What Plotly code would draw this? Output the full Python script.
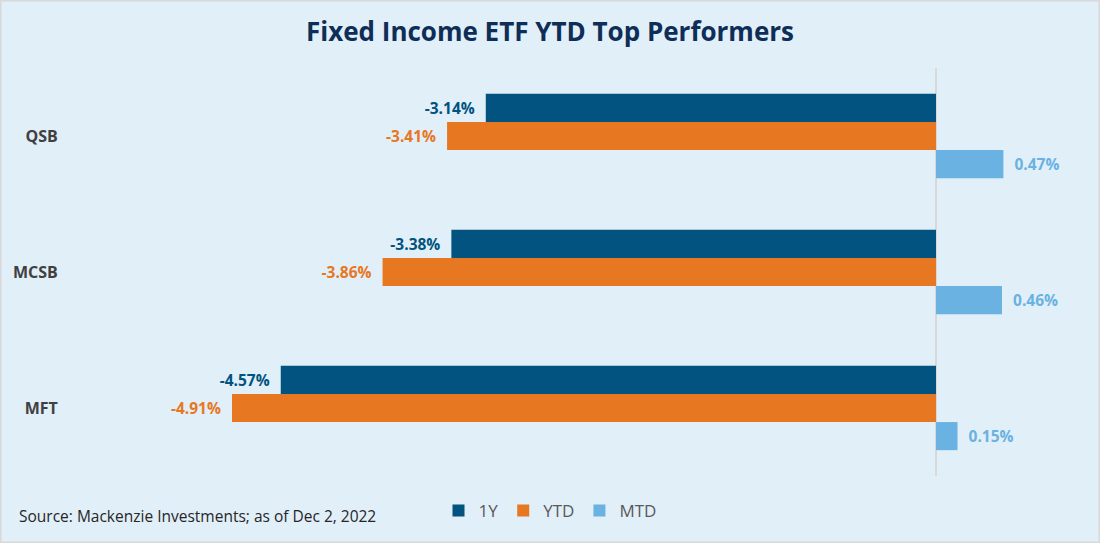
import plotly.graph_objects as go

categories = ["QSB", "MCSB", "MFT"]
one_year = [-3.14, -3.38, -4.57]
ytd = [-3.41, -3.86, -4.91]
mtd = [0.47, 0.46, 0.15]
series_names = ["1Y", "YTD", "MTD"]
colors = ["#02537F", "#E87722", "#6AB2E2"]

W, H = 1100, 543
L, R, T, B = 80, 40, 68, 67
zero_px = 936
px_per_unit = (936 - 232) / 4.91
x_min = -(zero_px - L) / px_per_unit
x_max = (W - R - zero_px) / px_per_unit

fig = go.Figure()
for name, vals, col in zip(series_names, [one_year, ytd, mtd], colors):
    fig.add_trace(go.Bar(
        name=name, y=categories, x=vals, orientation="h",
        marker=dict(color=col, line=dict(width=0)),
        text=[("%.2f%%\u00a0\u00a0" % v) if v < 0 else ("\u00a0\u00a0%.2f%%" % v) for v in vals],
        textposition="outside", cliponaxis=False,
        textfont=dict(family="Open Sans", size=15.5, color=col, weight="bold"),
        hoverinfo="skip",
    ))

fig.update_layout(
    width=W, height=H,
    margin=dict(l=L, r=R, t=T, b=B),
    paper_bgcolor="#E1EFF9", plot_bgcolor="#E1EFF9",
    barmode="group", bargap=0.38, bargroupgap=0,
    title=dict(text="<b>Fixed Income ETF YTD Top Performers</b>",
               x=0.5, xanchor="center", y=1 - 32 / H, yanchor="middle",
               font=dict(family="Open Sans", size=26, color="#0E2D57")),
    xaxis=dict(range=[x_min, x_max], showgrid=False, showticklabels=False,
               zeroline=True, zerolinecolor="#D9D9D9", zerolinewidth=2,
               ticks="", showline=False, fixedrange=True),
    yaxis=dict(categoryorder="array", categoryarray=categories, autorange="reversed",
               showgrid=False, zeroline=False, showline=False,
               ticks="outside", ticklen=18, tickcolor="rgba(0,0,0,0)",
               tickfont=dict(family="Open Sans", size=16, color="#404040", weight="bold")),
    legend=dict(orientation="h", xref="container", yref="container",
                x=0.5, xanchor="center", y=1 - 511 / H, yanchor="middle",
                font=dict(family="Open Sans", size=17, color="#595959"),
                bgcolor="rgba(0,0,0,0)", itemwidth=30, traceorder="normal"),
    showlegend=True,
    annotations=[dict(text="Source: Mackenzie Investments; as of Dec 2, 2022",
                      xref="paper", yref="paper",
                      x=(17 - L) / (W - L - R), xanchor="left",
                      y=(H - B - 516) / (H - T - B), yanchor="middle",
                      showarrow=False,
                      font=dict(family="Open Sans", size=15.5, color="#262626"))],
    shapes=[dict(type="rect", xref="paper", yref="paper",
                 x0=-L / (W - L - R) + 0.0005, x1=1 + R / (W - L - R) - 0.0005,
                 y0=-B / (H - T - B) + 0.001, y1=1 + T / (H - T - B) - 0.001,
                 line=dict(color="#D9D9D9", width=2), layer="below")],
)

fig.write_html("out.html",
               config={"displayModeBar": False, "staticPlot": True},
               post_script="document.body.style.margin='0';document.body.style.overflow='hidden';")
